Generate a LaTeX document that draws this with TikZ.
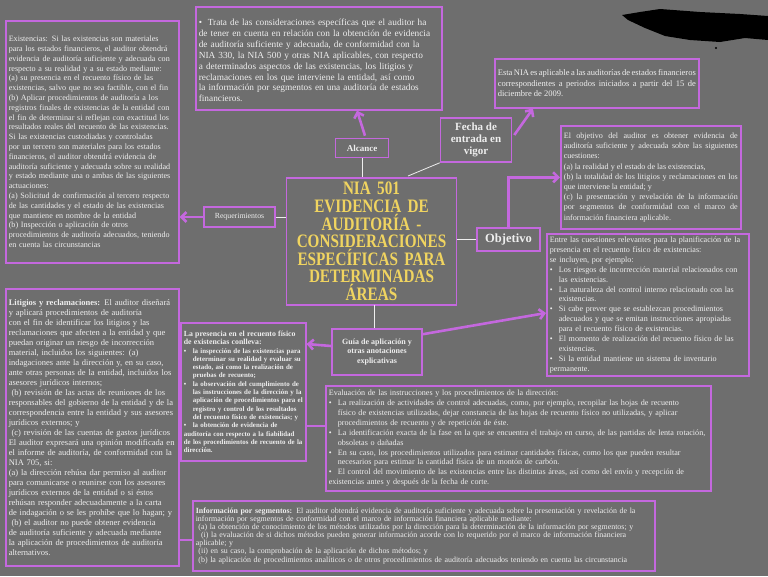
\documentclass[tikz,border=0pt]{standalone}
\usepackage{fontspec}
\setmainfont{Liberation Serif}
\newfontfamily\ttlfont[FakeStretch=0.8]{Liberation Serif}
\usetikzlibrary{arrows.meta}
\definecolor{bg}{RGB}{110,110,110}
\definecolor{pur}{RGB}{196,104,222}
\definecolor{tx}{RGB}{238,238,238}
\definecolor{ttl}{RGB}{240,212,96}
\newcommand{\bl}{\par\hangindent=9pt\hangafter=1\makebox[9pt][l]{\textbullet}}
\tikzset{
 every node/.append style={execute at begin node={\hyphenpenalty=10000\exhyphenpenalty=10000}},
 box/.style={draw=pur,line width=1.6pt,anchor=north west,inner sep=3pt,text=tx,align=left},
 lbl/.style={draw=pur,line width=1.6pt,inner sep=2pt,text=tx,align=center,font=\bfseries},
 wl/.style={draw=tx,line width=0.8pt},
 pa/.style={draw=pur,line width=2.6pt,-{Straight Barb[length=5pt,width=10pt]}},
 pl/.style={draw=pur,line width=2.6pt},
 sm/.style={font=\fontsize{8.1}{9.8}\selectfont},
}
\begin{document}
\begin{tikzpicture}[x=1pt,y=-1pt]
\fill[bg] (0,0) rectangle (768,576);
\useasboundingbox (0,0) rectangle (768,576);
% scribble
\fill[black] (622,15) -- (640,12) -- (660,9) -- (700,12) -- (740,14) -- (768,16) -- (768,40) -- (745,38) -- (720,42) -- (690,40) -- (665,36) -- (645,28) -- (628,20) -- cycle;
\fill[black] (716,48) circle (1.2);
% center
\node[box,anchor=center,text width=164pt,minimum height=127pt,align=center,text=ttl,font=\fontsize{19}{17.6}\ttlfont\bfseries] (c) at (371.5,241.5)
 {NIA 501\\EVIDENCIA DE\\AUDITORÍA -\\CONSIDERACIONES\\ESPECÍFICAS PARA\\DETERMINADAS\\ÁREAS};
% top scope box
\node[box,text width=240pt,minimum height=103pt,font=\fontsize{9.3}{10.9}\selectfont] (al) at (195,6)
 {\leftskip=18pt\bl Trata de las consideraciones específicas que el auditor ha de tener en cuenta en relación con la obtención de evidencia de auditoría suficiente y adecuada, de conformidad con la NIA 330, la NIA 500 y otras NIA aplicables, con respecto a determinados aspectos de las existencias, los litigios y reclamaciones en los que interviene la entidad, así como la información por segmentos en una auditoría de estados financieros.};
\node[lbl,minimum width=53pt,minimum height=19pt,font=\fontsize{9}{10}\selectfont\bfseries] (alc) at (362,148) {Alcance};
\node[lbl,minimum width=71pt,minimum height=44pt,font=\fontsize{11}{12}\selectfont\bfseries] (fe) at (476,140) {Fecha de\\entrada en\\vigor};
\node[box,text width=198pt,minimum height=49pt,align=justify,font=\fontsize{8.5}{10.5}\selectfont] (es) at (494,58)
 {Esta NIA es aplicable a las auditorías de estados financieros correspondientes a periodos iniciados a partir del 15 de diciembre de 2009.};
\node[lbl,minimum width=71pt,minimum height=20pt,font=\fontsize{7.8}{8}\selectfont] (req) at (239.5,217) {Requerimientos};
\node[lbl,minimum width=63pt,minimum height=23pt,font=\fontsize{12.5}{13}\selectfont\bfseries] (ob) at (508.5,239.5) {Objetivo};
\node[box,text width=174pt,minimum height=103pt,align=justify,font=\fontsize{8.1}{10.2}\selectfont] (obb) at (560,125)
 {El objetivo del auditor es obtener evidencia de auditoría suficiente y adecuada sobre las siguientes cuestiones:\\
 \ (a) la realidad y el estado de las existencias,\\
 \ (b) la totalidad de los litigios y reclamaciones en los que interviene la entidad; y\\
 \ \ \ (c) la presentación y revelación de la información por segmentos de conformidad con el marco de información financiera aplicable.};
\node[box,text width=196pt,minimum height=139pt,font=\fontsize{8.1}{9.9}\selectfont] (en) at (546,233)
 {Entre las cuestiones relevantes para la planificación de la presencia en el recuento físico de existencias:\\ se incluyen, por ejemplo:
 \bl Los riesgos de incorrección material relacionados con las existencias.
 \bl La naturaleza del control interno relacionado con las existencias.
 \bl Si cabe prever que se establezcan procedimientos adecuados y que se emitan instrucciones apropiadas para el recuento físico de existencias.
 \bl El momento de realización del recuento físico de las existencias.
 \bl Si la entidad mantiene un sistema de inventario permanente.};
\node[box,text width=167pt,minimum height=242pt,sm] (ex) at (5,20)
 {Existencias: Si las existencias son materiales para los estados financieros, el auditor obtendrá evidencia de auditoría suficiente y adecuada con respecto a su realidad y a su estado mediante:\\
 (a) su presencia en el recuento físico de las existencias, salvo que no sea factible, con el fin\\
 (b) Aplicar procedimientos de auditoría a los registros finales de existencias de la entidad con el fin de determinar si reflejan con exactitud los resultados reales del recuento de las existencias.\\
 Si las existencias custodiadas y controladas por un tercero son materiales para los estados financieros, el auditor obtendrá evidencia de auditoría suficiente y adecuada sobre su realidad y estado mediante una o ambas de las siguientes actuaciones:\\
 (a) Solicitud de confirmación al tercero respecto de las cantidades y el estado de las existencias que mantiene en nombre de la entidad\\
 (b) Inspección o aplicación de otros procedimientos de auditoría adecuados, teniendo en cuenta las circunstancias};
\node[box,text width=167pt,minimum height=277pt,font=\fontsize{8.5}{10}\selectfont] (li) at (5,288)
 {\textbf{Litigios y reclamaciones:} El auditor diseñará y aplicará procedimientos de auditoría con el fin de identificar los litigios y las reclamaciones que afecten a la entidad y que puedan originar un riesgo de incorrección material, incluidos los siguientes: (a) indagaciones ante la dirección y, en su caso, ante otras personas de la entidad, incluidos los asesores jurídicos internos;\\
 \ (b) revisión de las actas de reuniones de los responsables del gobierno de la entidad y de la correspondencia entre la entidad y sus asesores jurídicos externos; y\\
 \ (c) revisión de las cuentas de gastos jurídicos\\
 El auditor expresará una opinión modificada en el informe de auditoría, de conformidad con la NIA 705, si:\\
 (a) la dirección rehúsa dar permiso al auditor para comunicarse o reunirse con los asesores jurídicos externos de la entidad o si éstos rehúsan responder adecuadamente a la carta de indagación o se les prohíbe que lo hagan; y\\
 \ (b) el auditor no puede obtener evidencia de auditoría suficiente y adecuada mediante la aplicación de procedimientos de auditoría alternativos.};
\node[box,text width=119pt,minimum height=138pt,font=\fontsize{6.9}{8.3}\selectfont\bfseries] (pr) at (180,322)
 {{\fontsize{7.8}{10}\selectfont La presencia en el recuento físico de existencias conlleva:}
 \bl la inspección de las existencias para determinar su realidad y evaluar su estado, así como la realización de pruebas de recuento;
 \bl la observación del cumplimiento de las instrucciones de la dirección y la aplicación de procedimientos para el registro y control de los resultados del recuento físico de existencias; y
 \bl la obtención de evidencia de auditoría con respecto a la fiabilidad de los procedimientos de recuento de la dirección.};
\node[lbl,minimum width=90pt,minimum height=46pt,font=\fontsize{8}{9.5}\selectfont\bfseries] (gu) at (377,352) {Guía de aplicación y\\otras anotaciones\\explicativas};
\node[box,text width=379pt,minimum height=105pt,font=\fontsize{8.1}{9.9}\selectfont] (ev) at (325,385)
 {Evaluación de las instrucciones y los procedimientos de la dirección:
 \bl La realización de actividades de control adecuadas, como, por ejemplo, recopilar las hojas de recuento físico de existencias utilizadas, dejar constancia de las hojas de recuento físico no utilizadas, y aplicar procedimientos de recuento y de repetición de éste.
 \bl La identificación exacta de la fase en la que se encuentra el trabajo en curso, de las partidas de lenta rotación, obsoletas o dañadas
 \bl En su caso, los procedimientos utilizados para estimar cantidades físicas, como los que pueden resultar necesarios para estimar la cantidad física de un montón de carbón.
 \bl El control del movimiento de las existencias entre las distintas áreas, así como del envío y recepción de existencias antes y después de la fecha de corte.};
\node[box,text width=456pt,minimum height=70pt,font=\fontsize{7.9}{8.1}\selectfont] (in) at (192,500)
 {\textbf{Información por segmentos:} El auditor obtendrá evidencia de auditoría suficiente y adecuada sobre la presentación y revelación de la información por segmentos de conformidad con el marco de información financiera aplicable mediante:\\
 \ (a) la obtención de conocimiento de los métodos utilizados por la dirección para la determinación de la información por segmentos; y\\
 \ \ (i) la evaluación de si dichos métodos pueden generar información acorde con lo requerido por el marco de información financiera aplicable; y\\
 \ (ii) en su caso, la comprobación de la aplicación de dichos métodos; y\\
 \ (b) la aplicación de procedimientos analíticos o de otros procedimientos de auditoría adecuados teniendo en cuenta las circunstancia};
% connectors
\draw[wl] (alc.south) -- (alc.south |- c.north);
\draw[wl] (fe.south west) -- (408,176);
\draw[wl] (c.east |- ob.west) -- (ob.west);
\draw[wl] (c.west |- req.east) -- (req.east);
\draw[wl] (gu.north -| 374,0) -- (374,305);
\draw[pa] (alc.north) ++(3,-2) -- (al.south -| 357,0);
\draw[pa] (fe.east) ++(2,-5) -- (es.south -| 533,0);
\draw[pa] (ob.north) |- (obb.west);
\draw[pa] (req.west) -- (ex.east |- req.west);
\draw[pa] (gu.north east) ++(0,6) -- (en.west |- 0,313);
\draw[pa] (gu.west |- 0,346) -- (pr.east |- 0,344);
\draw[pl] (pr.east |- 0,426) -- (ev.west |- 0,426);
\draw[pl] (li.east |- 0,540) -- (in.west |- 0,540);
\end{tikzpicture}
\end{document}
